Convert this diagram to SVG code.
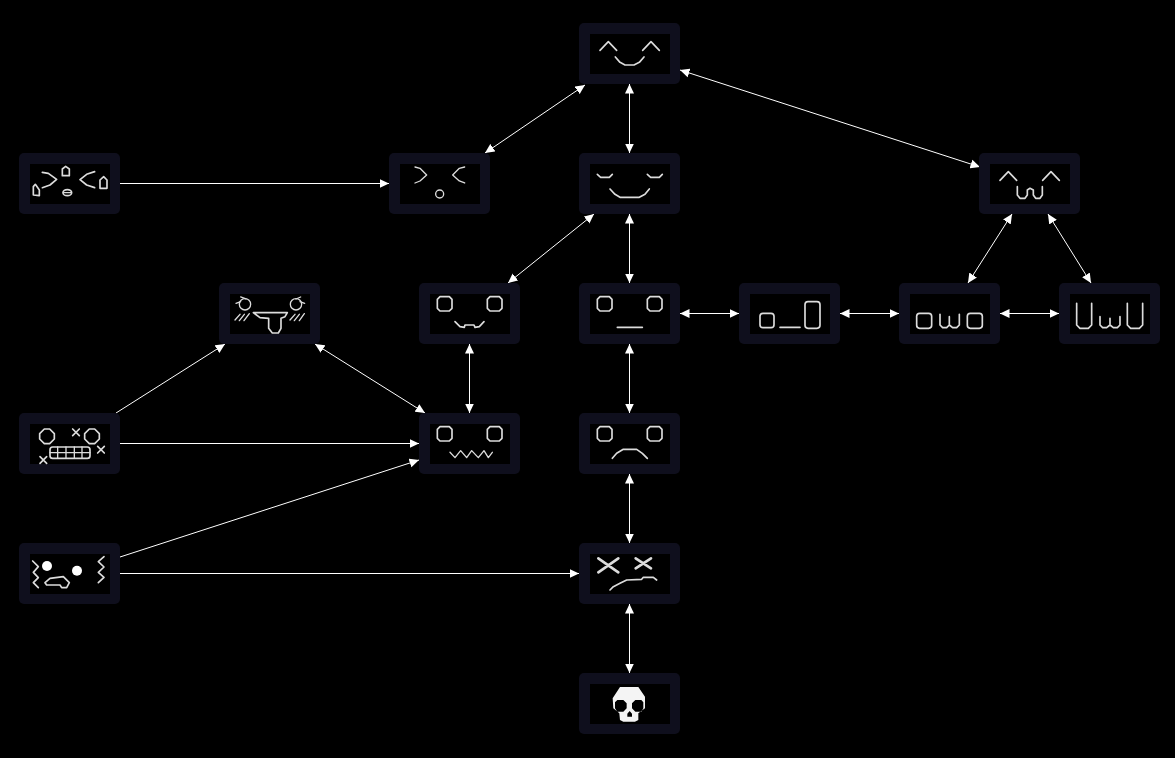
<svg xmlns="http://www.w3.org/2000/svg" width="1175" height="758" viewBox="0 0 1175 758">
<style>
.f{fill:#0f0f1d}.i{fill:#000}
.g{fill:none;stroke:#dcdcdc;stroke-width:5;stroke-linejoin:round;stroke-linecap:round}
.t{stroke-width:4}.w{fill:#fff;stroke:none}.b{stroke-width:8}
.c line{stroke:#fff;stroke-width:1}
.bi{marker-start:url(#a);marker-end:url(#a)}.on{marker-end:url(#a)}
</style>
<defs>
<marker id="a" markerUnits="userSpaceOnUse" markerWidth="10" markerHeight="10" refX="9.5" refY="5" orient="auto-start-reverse"><path d="M0,.5L9.5,5L0,9.5Z" fill="#fff"/></marker>
<g id="frame"><rect class="f" width="101" height="61" rx="5"/><rect class="i" x="11" y="11" width="80" height="40"/></g>
<path id="oo" d="M90,65H118L126,73V100L118,108H90L82,100V73ZM240,65H268L276,73V100L268,108H240L232,100V73Z"/>
<path id="carets" d="M90,106L115,80L140,106M218,106L243,80L268,106"/>
</defs>
<rect width="1175" height="758" fill="#000"/>
<g id="connectors" class="c">
<line class="bi" x1="585" y1="85" x2="485" y2="153"/>
<line class="bi" x1="629.5" y1="84" x2="629.5" y2="153"/>
<line class="bi" x1="680" y1="70" x2="980" y2="167"/>
<line class="on" x1="120" y1="183.5" x2="389" y2="183.5"/>
<line class="bi" x1="594" y1="214" x2="508" y2="283"/>
<line class="bi" x1="629.5" y1="214" x2="629.5" y2="283"/>
<line class="bi" x1="1012" y1="214" x2="968" y2="283"/>
<line class="bi" x1="1048" y1="214" x2="1091" y2="283"/>
<line class="bi" x1="680" y1="313.5" x2="739" y2="313.5"/>
<line class="bi" x1="840" y1="313.5" x2="899" y2="313.5"/>
<line class="bi" x1="1000" y1="313.5" x2="1059" y2="313.5"/>
<line class="bi" x1="469.5" y1="344" x2="469.5" y2="413"/>
<line class="bi" x1="629.5" y1="344" x2="629.5" y2="413"/>
<line class="bi" x1="629.5" y1="474" x2="629.5" y2="543"/>
<line class="bi" x1="629.5" y1="604" x2="629.5" y2="673"/>
<line class="on" x1="116" y1="413" x2="225" y2="344"/>
<line class="bi" x1="315" y1="344" x2="425" y2="413"/>
<line class="on" x1="120" y1="443.5" x2="419" y2="443.5"/>
<line class="on" x1="120" y1="557" x2="419" y2="460"/>
<line class="on" x1="120" y1="573.5" x2="579" y2="573.5"/>
</g>
<g id="joy" transform="translate(579,23)"><use href="#frame"/><g class="g" transform="translate(-9,-8) scale(.3333)"><use href="#carets"/><path d="M136,126L150,142L165,150H192L208,142L222,126"/></g></g>
<g id="squint" transform="translate(389,153)"><use href="#frame"/><g class="g" transform="translate(-9,-8) scale(.3333)"><path class="t" d="M105,66L120,70L140,90L120,108L105,114M254,66L238,70L218,90L238,108L254,114"/><circle class="t" cx="179" cy="147" r="12"/></g></g>
<g id="content" transform="translate(579,153)"><use href="#frame"/><g class="g" transform="translate(-9,-8) scale(.3333)"><path d="M82,88L92,97H118L127,88M232,88L242,97H268L277,88M120,132L135,148L150,157H208L225,148L238,132"/></g></g>
<g id="cat" transform="translate(979,153)"><use href="#frame"/><g class="g" transform="translate(-9,-8) scale(.3333)"><use href="#carets"/><path d="M142,125V150L150,160H165L172,150V135L180,130L190,135V150L197,160H210L217,150V125"/></g></g>
<g id="crying" transform="translate(19,153)"><use href="#frame"/><g class="g" transform="translate(-9,-8) scale(.3333)"><path d="M97,82L115,85L140,103L120,120L97,128M254,80L230,88L210,104L230,120L254,128M157,92V72L167,64L178,72V92ZM70,150V125L76,118L88,135V152ZM270,130V105L281,95L291,105V130Z"/><ellipse cx="172" cy="143" rx="13" ry="9"/><path class="t" d="M160,143H184"/></g></g>
<g id="tongue" transform="translate(219,283)"><use href="#frame"/><g class="g" transform="translate(-9,-8) scale(.3333)"><circle class="t" cx="105" cy="88" r="17"/><circle class="t" cx="258" cy="88" r="17"/><path class="t" d="M92,66L108,72M78,85L92,80M272,66L258,72M284,85L270,80M75,135L90,118M88,137L103,118M102,137L118,116M240,135L255,118M253,137L268,118M268,137L283,116"/><path d="M130,113H232L225,125L213,130V160L205,174H187L176,160V130L150,128Z"/></g></g>
<g id="surprised" transform="translate(419,283)"><use href="#frame"/><g class="g" transform="translate(-9,-8) scale(.3333)"><use href="#oo"/><path d="M135,140L150,155L163,157L165,150H192L195,157L208,155L222,140"/></g></g>
<g id="neutral" transform="translate(579,283)"><use href="#frame"/><g class="g" transform="translate(-9,-8) scale(.3333)"><use href="#oo"/><path d="M142,157H217"/></g></g>
<g id="o_0" transform="translate(739,283)"><use href="#frame"/><g class="g" transform="translate(-9,-8) scale(.3333)"><rect x="90" y="115" width="42" height="43" rx="9"/><rect x="225" y="80" width="45" height="80" rx="9"/><path d="M150,157H210"/></g></g>
<g id="owo" transform="translate(899,283)"><use href="#frame"/><g class="g" transform="translate(-9,-8) scale(.3333)"><rect x="80" y="115" width="45" height="45" rx="9"/><rect x="232" y="115" width="45" height="45" rx="9"/><path d="M150,118V150L158,158H170L178,150V125V150L188,158H200L208,150V118"/></g></g>
<g id="uwu" transform="translate(1059,283)"><use href="#frame"/><g class="g" transform="translate(-9,-8) scale(.3333)"><path d="M80,85V150L90,160H115L125,150V85M232,85V150L242,160H268L278,150V85M150,125V150L158,158H170L180,150V130V150L190,158H202L210,150V125"/></g></g>
<g id="grit" transform="translate(19,413)"><use href="#frame"/><g class="g" transform="translate(-9,-8) scale(.3333)"><path d="M103,72H119L133,86V102L119,116H103L89,102V86ZM238,72H254L268,86V102L254,116H238L224,102V86Z"/><path d="M188,72L208,92M208,72L188,92M263,124L283,144M283,124L263,144M90,155L110,175M110,155L90,175"/><rect x="120" y="126" width="120" height="34" rx="8"/><path class="t" d="M120,143H240M143,126V160M168,126V160M193,126V160M216,126V160"/></g></g>
<g id="wavy" transform="translate(419,413)"><use href="#frame"/><g class="g" transform="translate(-9,-8) scale(.3333)"><use href="#oo"/><path class="t" d="M120,142L135,158L152,137L170,158L185,137L205,158L222,137L235,158L247,142"/></g></g>
<g id="frown" transform="translate(579,413)"><use href="#frame"/><g class="g" transform="translate(-9,-8) scale(.3333)"><use href="#oo"/><path d="M127,160L140,145L160,133H200L217,145L232,160"/></g></g>
<g id="scared" transform="translate(19,543)"><use href="#frame"/><g class="g" transform="translate(-9,-8) scale(.3333)"><path d="M68,78L85,95L70,112L85,128L70,143L85,158M282,65L265,80L282,96L265,112L282,127L265,143"/><circle class="w" cx="111" cy="93" r="15"/><circle class="w" cx="201" cy="107" r="15"/><path d="M105,143L120,130L160,125L178,143L170,158H155L150,150H110Z"/></g></g>
<g id="dizzy" transform="translate(579,543)"><use href="#frame"/><g class="g" transform="translate(-9,-8) scale(.3333)"><path class="b" d="M85,70L145,112M145,70L85,112M197,70L243,100M243,70L197,100"/><path d="M120,165L130,155L150,145L170,135L215,133L220,127H250L260,135"/></g></g>
<g id="skull" transform="translate(579,673)"><use href="#frame"/><g transform="translate(-9,-8) scale(.3333)"><path fill="#f4f4f4" fill-rule="evenodd" d="M150,66H205L225,95V130L205,145V165L195,170H160L150,165L148,145L130,130L128,100ZM135,112L142,105H160L170,115V130L160,140H142L135,130ZM186,115L196,105H214L220,112V130L214,140H196L186,130ZM172,146L179,138L186,146V155H172Z"/></g></g>
</svg>
